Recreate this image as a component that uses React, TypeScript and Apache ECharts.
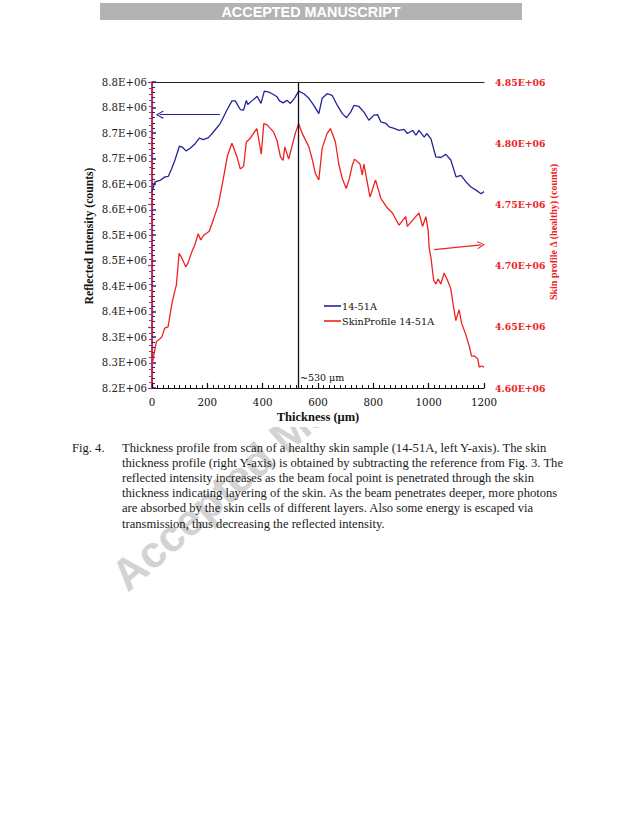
import React, { useEffect, useRef } from "react";
import * as echarts from "echarts";

// Thickness (µm) and reflected intensity (counts) — series "14-51A" (left axis)
const thicknessBlue = [
  0, 11, 29, 47, 59, 71, 83, 99, 108, 123,
  138, 156, 171, 186, 204, 222, 247, 271, 289, 301,
  319, 331, 341, 346, 361, 380, 394, 406, 422, 434,
  452, 461, 474, 488, 500, 515, 530, 549, 567, 585,
  603, 615, 633, 651, 670, 688, 703, 718, 730, 748,
  766, 784, 802, 815, 827, 845, 857, 875, 893, 911,
  923, 942, 954, 965, 984, 993, 1008, 1026, 1044, 1062,
  1080, 1099, 1117, 1135, 1153, 1171, 1189, 1200,
];
const intensityBlue = [
  8585000, 8604000, 8607000, 8614000, 8615000, 8630000, 8647000, 8674000, 8673000, 8665000,
  8670000, 8679000, 8690000, 8687000, 8691000, 8702000, 8719000, 8745000, 8763000, 8763000,
  8746000, 8745000, 8764000, 8756000, 8763000, 8772000, 8758000, 8782000, 8780000, 8777000,
  8771000, 8763000, 8759000, 8764000, 8758000, 8768000, 8782000, 8777000, 8768000, 8754000,
  8738000, 8768000, 8777000, 8774000, 8754000, 8738000, 8730000, 8741000, 8754000, 8752000,
  8741000, 8725000, 8735000, 8736000, 8722000, 8719000, 8712000, 8709000, 8705000, 8707000,
  8699000, 8705000, 8696000, 8705000, 8692000, 8699000, 8689000, 8653000, 8652000, 8658000,
  8647000, 8614000, 8617000, 8604000, 8594000, 8588000, 8581000, 8585000,
];

// Skin profile (counts) — series "SkinProfile 14-51A" (right axis)
const thicknessRed = [
  0, 16, 28, 36, 46, 58, 72, 82, 88, 98,
  106, 122, 130, 142, 155, 167, 176, 188, 207, 221,
  239, 257, 273, 289, 307, 319, 331, 341, 355, 367,
  379, 395, 404, 416, 440, 452, 464, 474, 480, 494,
  518, 530, 543, 567, 579, 591, 603, 615, 633, 645,
  663, 675, 688, 702, 712, 724, 732, 752, 760, 766,
  788, 808, 827, 851, 869, 893, 917, 923, 953, 965,
  978, 990, 998, 1002, 1008, 1018, 1026, 1034, 1044, 1056,
  1068, 1080, 1090, 1098, 1110, 1119, 1135, 1147, 1155, 1167,
  1177, 1183, 1192, 1200,
];
const profileRed = [
  4619000, 4638000, 4640000, 4642000, 4649000, 4650000, 4669000, 4679000, 4684000, 4710000,
  4707000, 4699000, 4702000, 4710000, 4717000, 4726000, 4721000, 4725000, 4728000, 4737000,
  4749000, 4770000, 4790000, 4800000, 4789000, 4779000, 4781000, 4801000, 4804000, 4808000,
  4812000, 4791000, 4816000, 4815000, 4809000, 4802000, 4789000, 4786000, 4797000, 4787000,
  4808000, 4816000, 4808000, 4797000, 4787000, 4775000, 4770000, 4796000, 4808000, 4812000,
  4801000, 4783000, 4771000, 4763000, 4770000, 4782000, 4787000, 4783000, 4774000, 4783000,
  4756000, 4770000, 4755000, 4747000, 4743000, 4733000, 4740000, 4732000, 4740000, 4743000,
  4732000, 4740000, 4729000, 4714000, 4707000, 4688000, 4685000, 4689000, 4685000, 4694000,
  4688000, 4681000, 4666000, 4655000, 4664000, 4653000, 4643000, 4634000, 4626000, 4626000,
  4624000, 4617000, 4618000, 4617000,
];

const seriesNames = ["14-51A", "SkinProfile 14-51A"];
const leftTickLabels = [
  "8.2E+06", "8.3E+06", "8.3E+06", "8.4E+06", "8.4E+06", "8.5E+06", "8.5E+06",
  "8.6E+06", "8.6E+06", "8.7E+06", "8.7E+06", "8.8E+06", "8.8E+06",
];
const leftAxisTitle = "Reflected Intensity (counts)";
const rightAxisTitle = "Skin profile Δ (healthy) (counts)";
const xAxisTitle = "Thickness (μm)";
const focusThickness = 530;
const blueArrow = [[245, 8736000], [28, 8736000]];
const redArrow = [[1020, 4713000], [1189, 4717000]];

const captionLines = [
  "Thickness profile from scan of a healthy skin sample (14-51A, left Y-axis). The skin",
  "thickness profile (right Y-axis) is obtained by subtracting the reference from Fig. 3. The",
  "reflected intensity increases as the beam focal point is penetrated through the skin",
  "thickness indicating layering of the skin. As the beam penetrates deeper, more photons",
  "are absorbed by the skin cells of different layers. Also some energy is escaped via",
  "transmission, thus decreasing the reflected intensity.",
];

const BLUE = "#23239a";
const RED = "#ee2222";
const SERIF = '"DejaVu Serif", serif';
const NAMEFONT = '"Liberation Serif", serif';
const CHEVRON = "path://M5,0 L10,9 L9,10 L5,2.5 L1,10 L0,9 Z";

export default function App() {
  const ref = useRef<HTMLDivElement>(null);

  useEffect(() => {
    const chart = echarts.init(ref.current as HTMLDivElement, null, { renderer: "svg" });

    const blueData = thicknessBlue.map((t, i) => [t, intensityBlue[i]]);
    const redData = thicknessRed.map((t, i) => [t, profileRed[i]]);

    const graphic: any[] = [
      {
        type: "text",
        x: 132,
        y: 598,
        rotation: 0.716,
        z: -10,
        style: {
          text: "Accepted Manuscript",
          fill: "#d3d3d3",
          fontSize: 44,
          fontWeight: "bold",
          fontFamily: '"Liberation Sans", Arial, sans-serif',
          align: "left",
          verticalAlign: "bottom",
        },
      },
      {
        type: "rect",
        z: -5,
        shape: { x: 60, y: 50, width: 520, height: 377 },
        style: { fill: "#ffffff" },
      },
      {
        type: "rect",
        shape: { x: 100, y: 3, width: 422, height: 17 },
        style: { fill: "#b3b3b3" },
      },
      {
        type: "text",
        x: 311,
        y: 12,
        style: {
          text: "ACCEPTED MANUSCRIPT",
          fill: "#ffffff",
          fontSize: 14.4,
          fontWeight: "bold",
          fontFamily: '"Liberation Sans", Arial, sans-serif',
          align: "center",
          verticalAlign: "middle",
        },
      },
      {
        type: "text",
        x: 89,
        y: 236,
        rotation: Math.PI / 2,
        style: {
          text: leftAxisTitle,
          fill: "#111",
          fontSize: 11.7,
          fontWeight: "bold",
          fontFamily: NAMEFONT,
          align: "center",
          verticalAlign: "middle",
        },
      },
      {
        type: "text",
        x: 553,
        y: 232,
        rotation: Math.PI / 2,
        style: {
          text: rightAxisTitle,
          fill: RED,
          fontSize: 10,
          fontWeight: "bold",
          fontFamily: NAMEFONT,
          align: "center",
          verticalAlign: "middle",
        },
      },
      {
        type: "text",
        x: 300,
        y: 377,
        style: {
          text: "~530 μm",
          fill: "#111",
          fontSize: 9.5,
          fontFamily: SERIF,
          align: "left",
          verticalAlign: "middle",
        },
      },
      {
        type: "text",
        x: 72,
        y: 448,
        style: {
          text: "Fig. 4.",
          fill: "#1a1a1a",
          fontSize: 12.6,
          fontFamily: NAMEFONT,
          align: "left",
          verticalAlign: "middle",
        },
      },
      ...captionLines.map((line, i) => ({
        type: "text",
        x: 122,
        y: 448 + i * 15.1,
        style: {
          text: line,
          fill: "#1a1a1a",
          fontSize: 12.6,
          fontFamily: NAMEFONT,
          align: "left",
          verticalAlign: "middle",
        },
      })),
    ];

    chart.setOption({
      animation: false,
      backgroundColor: "#ffffff",
      grid: { left: 152, top: 82, width: 332, height: 306, containLabel: false },
      legend: {
        data: seriesNames,
        orient: "vertical",
        left: 319,
        top: 296,
        icon: "rect",
        itemWidth: 17,
        itemHeight: 1.6,
        itemGap: 5,
        textStyle: { fontFamily: SERIF, fontSize: 9.7, color: "#111", padding: [0, 0, 0, -4] },
      },
      xAxis: [
        {
          type: "value",
          min: 0,
          max: 1200,
          interval: 200,
          position: "bottom",
          name: xAxisTitle,
          nameLocation: "middle",
          nameGap: 22,
          nameTextStyle: { fontFamily: NAMEFONT, fontWeight: "bold", fontSize: 12.5, color: "#111" },
          axisLine: { show: true, lineStyle: { color: "#111", width: 1.2 } },
          axisTick: { show: true, inside: true, length: 5, lineStyle: { color: "#111", width: 1.2 } },
          minorTick: { show: true, splitNumber: 10, length: 3, lineStyle: { color: "#111", width: 1 } },
          splitLine: { show: false },
          axisLabel: {
            color: "#111",
            fontFamily: SERIF,
            fontSize: 10.3,
            margin: 9,
            formatter: (v: number) => String(Math.round(v)),
          },
        },
        {
          type: "value",
          min: 0,
          max: 1200,
          position: "top",
          axisLine: { show: true, lineStyle: { color: "#222", width: 1.2 } },
          axisTick: { show: false },
          axisLabel: { show: false },
          splitLine: { show: false },
        },
      ],
      yAxis: [
        {
          type: "value",
          position: "left",
          min: 8200000,
          max: 8800000,
          interval: 50000,
          axisLine: { show: true, lineStyle: { color: BLUE, width: 1.5 } },
          axisTick: { show: true, inside: true, length: 4, lineStyle: { color: BLUE, width: 1.5 } },
          minorTick: { show: true, splitNumber: 5, length: 3, lineStyle: { color: BLUE, width: 1 } },
          splitLine: { show: false },
          axisLabel: {
            color: "#222",
            fontFamily: SERIF,
            fontSize: 10.2,
            margin: 5,
            formatter: (v: number) => leftTickLabels[Math.round((v - 8200000) / 50000)] ?? "",
          },
        },
        {
          type: "value",
          position: "right",
          min: 4600000,
          max: 4850000,
          interval: 50000,
          axisLine: { show: true, lineStyle: { color: RED, width: 1.2 } },
          axisTick: { show: true, inside: true, length: 4, lineStyle: { color: RED, width: 1.2 } },
          minorTick: { show: true, splitNumber: 10, length: 3, lineStyle: { color: RED, width: 1 } },
          splitLine: { show: false },
          axisLabel: {
            color: RED,
            fontFamily: SERIF,
            fontWeight: "bold",
            fontSize: 9.3,
            margin: 11,
            formatter: (v: number) => (Math.round(v / 10000) / 100).toFixed(2) + "E+06",
          },
        },
      ],
      series: [
        {
          name: seriesNames[0],
          type: "line",
          xAxisIndex: 0,
          yAxisIndex: 0,
          data: blueData,
          showSymbol: false,
          symbol: "none",
          lineStyle: { color: BLUE, width: 1.3 },
          itemStyle: { color: BLUE },
          markLine: {
            silent: true,
            symbol: ["none", "none"],
            label: { show: false },
            data: [
              { xAxis: focusThickness, lineStyle: { color: "#111", width: 1.3, type: "solid" } },
              [
                { coord: blueArrow[0], symbol: "none" },
                { coord: blueArrow[1], symbol: CHEVRON, symbolSize: [8, 8] },
              ],
            ],
            lineStyle: { color: BLUE, width: 1.2, type: "solid" },
          },
        },
        {
          name: seriesNames[1],
          type: "line",
          xAxisIndex: 0,
          yAxisIndex: 1,
          data: redData,
          showSymbol: false,
          symbol: "none",
          lineStyle: { color: RED, width: 1.3 },
          itemStyle: { color: RED },
          markLine: {
            silent: true,
            symbol: ["none", "none"],
            label: { show: false },
            lineStyle: { color: RED, width: 1.2, type: "solid" },
            data: [
              [
                { coord: redArrow[0], symbol: "none" },
                { coord: redArrow[1], symbol: CHEVRON, symbolSize: [8, 8] },
              ],
            ],
          },
        },
      ],
      graphic,
    });

    return () => chart.dispose();
  }, []);

  return (
    <div
      ref={ref}
      style={{ position: "absolute", left: 0, top: 0, width: 638, height: 826, background: "#fff" }}
    />
  );
}
